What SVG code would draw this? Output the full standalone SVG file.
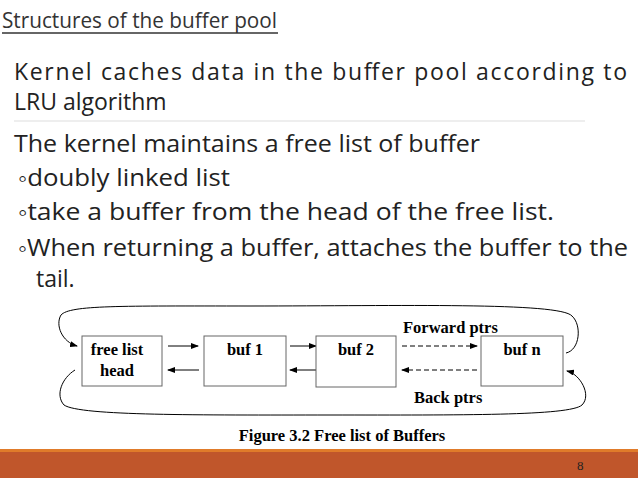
<svg xmlns="http://www.w3.org/2000/svg" width="638" height="478" viewBox="0 0 638 478">
<defs>
<style>
.b{font-family:"Open Sans","Liberation Sans",sans-serif;font-size:23px;fill:#222}
.s{font-family:"Liberation Serif",serif;font-weight:bold;font-size:16.5px;fill:#000}
.box{fill:#fff;stroke:#666;stroke-width:1}
.ln{stroke:#000;stroke-width:1;fill:none}
</style>
<marker id="a" markerWidth="8" markerHeight="6" refX="7" refY="3" orient="auto" markerUnits="userSpaceOnUse"><path d="M0,0 L8,3 L0,6z" fill="#000"/></marker>
</defs>
<rect width="638" height="478" fill="#fff"/>
<text x="2" y="28" font-family="Open Sans, Liberation Sans, sans-serif" font-size="21" fill="#333" textLength="275" lengthAdjust="spacingAndGlyphs">Structures of the buffer pool</text>
<line x1="2" y1="33" x2="278" y2="33" stroke="#333" stroke-width="1.5"/>
<text class="b" x="14" y="80" textLength="613" lengthAdjust="spacing">Kernel caches data in the buffer pool according to</text>
<text class="b" x="14" y="110">LRU algorithm</text>
<line x1="14" y1="121" x2="585" y2="121" stroke="#ddd" stroke-width="1"/>
<text class="b" x="14" y="152" textLength="466" lengthAdjust="spacingAndGlyphs">The kernel maintains a free list of  buffer</text>
<text class="b" x="18" y="186" textLength="212" lengthAdjust="spacingAndGlyphs">◦doubly linked list</text>
<text class="b" x="18" y="220" textLength="536" lengthAdjust="spacingAndGlyphs">◦take a buffer from the head of the free list.</text>
<text class="b" x="18" y="256" textLength="610" lengthAdjust="spacingAndGlyphs">◦When returning a buffer, attaches the buffer to the</text>
<text class="b" x="36" y="287">tail.</text>
<g id="connectors">
<line class="ln" x1="168" y1="346" x2="198" y2="346" marker-end="url(#a)"/>
<line class="ln" x1="199" y1="370" x2="168" y2="370" marker-end="url(#a)"/>
<line class="ln" x1="290" y1="346" x2="316" y2="346" marker-end="url(#a)"/>
<line class="ln" x1="316" y1="370" x2="290" y2="370" marker-end="url(#a)"/>
<line class="ln" x1="402" y1="346" x2="477" y2="346" stroke-dasharray="5,3" marker-end="url(#a)"/>
<line class="ln" x1="477" y1="370" x2="402" y2="370" stroke-dasharray="5,3" marker-end="url(#a)"/>
<path class="ln" d="M566,353 C580,350 582,325 572,316 C560,302 400,306 250,306 C120,306 70,305 61,315 C55,325 62,342 77,346" marker-end="url(#a)"/>
<path class="ln" d="M75,370 C62,378 55,395 64,405 C80,416 200,415 330,415 C460,415 570,416 582,405 C592,395 580,374 567,371" marker-end="url(#a)"/>
</g>
<g id="head"><rect class="box" x="82" y="336" width="80" height="50"/><text class="s" x="117" y="355" text-anchor="middle">free list</text><text class="s" x="117" y="376" text-anchor="middle">head</text></g>
<g id="buf1"><rect class="box" x="204" y="336" width="82" height="50"/><text class="s" x="245" y="355" text-anchor="middle">buf  1</text></g>
<g id="buf2"><rect class="box" x="316" y="336" width="80" height="51"/><text class="s" x="356" y="355" text-anchor="middle">buf  2</text></g>
<g id="bufn"><rect class="box" x="481" y="336" width="82" height="50"/><text class="s" x="522" y="355" text-anchor="middle">buf n</text></g>
<text class="s" x="403" y="333">Forward ptrs</text>
<text class="s" x="414" y="403">Back ptrs</text>
<text class="s" x="342" y="441" text-anchor="middle" font-size="15">Figure 3.2 Free list of Buffers</text>
<rect x="0" y="449" width="638" height="3" fill="#e07b2a"/>
<rect x="0" y="452" width="638" height="26" fill="#c0562b"/>
<text x="577" y="470" font-family="Liberation Serif, serif" font-size="13" fill="#222">8</text>
</svg>
